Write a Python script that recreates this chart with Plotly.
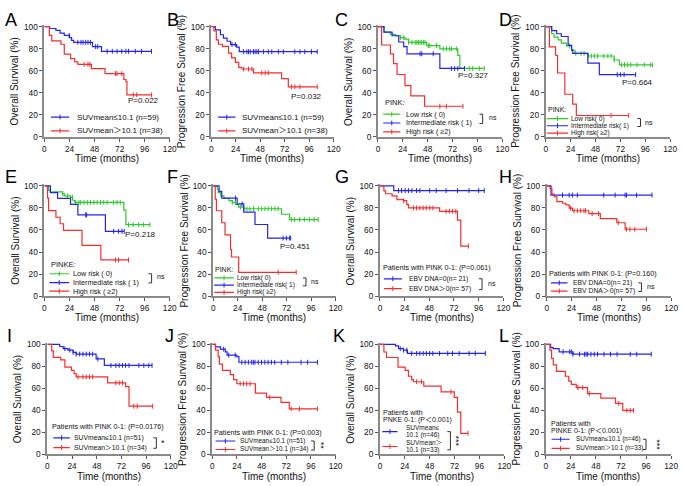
import plotly.graph_objects as go

W, H = 685, 486
BLUE = 'rgb(35,35,235)'
RED = 'rgb(245,45,45)'
GREEN = 'rgb(45,200,45)'
AXC = '#8a8a8a'
FONT = 'Liberation Sans, Arial, Noto Sans CJK SC, sans-serif'

X_TICKS = [0, 24, 48, 72, 96, 120]
Y_TICKS = [0, 20, 40, 60, 80, 100]

# ---------------- data (time in months, survival in %) ----------------
A_lo_t = [5, 11, 15, 19, 24, 26, 28, 46, 54.6]
A_lo_s = [98.3, 96.5, 94, 92, 90, 87.5, 85.7, 81.8, 77.6]
A_lo_c = [23.7, 32, 35, 37, 39.5, 41.7, 44, 49, 51, 60, 65, 69.5, 74, 78, 80.5, 87, 93, 102.5]
A_hi_t = [4.7, 7, 15.8, 19, 25, 29, 32, 45, 58, 76, 78, 79]
A_hi_s = [92, 87, 84, 75, 71, 68, 65.8, 61.9, 57.4, 52, 50, 38]
A_hi_c = [38, 41.7, 43.6, 68, 69.5, 74, 85, 88.4, 102.6]

B_lo_t = [4, 9, 12, 15.6, 19, 25, 27.5]
B_lo_s = [97, 92.6, 89.6, 86.7, 83.7, 81.4, 77.2]
B_lo_c = [20.4, 23.7, 31.8, 35, 36.6, 38.3, 41.5, 43, 44.8, 46.4, 51.2, 56, 59.4, 65.8, 70.7, 82, 87, 91.8, 98.3, 104]
B_hi_t = [2.6, 5, 7, 11, 17, 20, 23.7, 27, 30, 41.5, 69, 75.6]
B_hi_s = [96, 88, 84, 82, 76, 71.6, 67.5, 63, 61.5, 58, 52.7, 45.3]
B_hi_c = [31.8, 36.6, 40, 49.6, 52.9, 56, 78.8, 82, 87, 104]

C_low_t = [6, 12, 17, 21.6, 26, 29.5, 47, 59.7, 77, 79]
C_low_s = [95, 93, 91.7, 90, 88.7, 85.7, 82.7, 79.8, 73.8, 62]
C_low_c = [21.6, 24.8, 29.5, 32.7, 35.9, 37.5, 39, 40.6, 42.2, 43.8, 45.4, 48.6, 50, 56.5, 62.9, 66, 69.2, 70.8, 75.6, 83.5, 88, 91.4, 97.8, 102.5]
C_int_t = [5.7, 13.6, 20, 24.8, 28, 59.7]
C_int_s = [95, 91.7, 86, 81.8, 75.3, 62]
C_int_c = [40.6, 42.2, 53.3, 70.8, 74, 77, 83.5]
C_high_t = [3.5, 12, 15, 18.4, 26, 31.7, 45]
C_high_s = [83.3, 75.3, 66.4, 56.5, 46.4, 37.2, 27.7]
C_high_c = [59.7, 66, 82]

D_low_t = [5.7, 8, 12, 15, 20, 24.8, 28, 40.6, 66, 71]
D_low_s = [93.5, 90.5, 88, 85, 82.5, 78.6, 75.7, 73.3, 69.7, 65.3]
D_low_c = [23, 29, 34, 37, 41, 44, 47, 50, 56, 60, 63, 66, 73, 76, 79, 82, 88, 95, 101, 103]
D_int_t = [5.7, 10.5, 15, 21.6, 25, 26, 40.6, 51.7]
D_int_s = [96.4, 93.5, 91, 83, 78.6, 75.7, 66.8, 56.4]
D_int_c = [69, 72, 75.6, 86.7]
D_high_t = [3.5, 9.5, 11.4, 18.4, 26, 29.5]
D_high_s = [81.6, 74, 57.9, 38.6, 29.7, 19.3]
D_high_c = [63, 80]

E_low_t = [4, 5.7, 17.4, 19, 25, 27, 29, 76, 78]
E_low_s = [96, 94.6, 93, 91, 89.6, 87, 85, 78, 64.8]
E_low_c = [17.4, 22, 26.8, 30, 33, 34.7, 37.9, 41, 44, 47.4, 50.5, 53.7, 56.8, 60, 66.3, 69.5, 72.6, 80.5, 85, 90, 94.7, 101]
E_int_t = [5.7, 12.6, 25, 32, 58.4]
E_int_s = [94, 88.7, 83.3, 73.7, 58.8]
E_int_c = [39.5, 40.4, 66.3, 71, 74.2, 76.4]
E_high_t = [3, 4, 11, 15, 18.3, 36, 54]
E_high_s = [89, 77.6, 71.6, 65.7, 59.7, 46, 32.8]
E_high_c = [68, 71, 80.5]

F_low_t = [4, 5, 7.4, 10.6, 15.4, 18.7, 22, 25, 30, 67, 75]
F_low_s = [97, 94, 91, 88.8, 86.7, 85, 83, 80.8, 79.3, 74.3, 69.5]
F_low_c = [18.7, 21.9, 26.7, 30, 33, 36, 39.6, 44.4, 47.6, 50.8, 54, 57.3, 60.5, 63.7, 76.6, 79.8, 84.6, 89.4, 94.3, 99, 103]
F_int_t = [5.8, 8.4, 23.5, 30, 41, 53.4]
F_int_s = [95, 89, 83.7, 76.3, 65, 52.7]
F_int_c = [21.9, 28.3, 68.5, 71.8, 75, 76]
F_high_t = [2, 3.2, 8.4, 11.6, 17, 18, 25]
F_high_s = [88, 77.5, 66.6, 55.6, 42.3, 35.5, 21.6]
F_high_c = [63.7, 81.4]

G_neg_t = [13.4]
G_neg_s = [95.8]
G_neg_c = [18, 21, 24.5, 27.7, 31, 35.6, 38.8, 48.4, 54.7, 64.3, 75.4, 86.6, 96, 101.5]
G_pos_t = [3.8, 5.4, 11.8, 16.5, 23, 26, 27.7, 58, 75.4, 78.6]
G_pos_s = [95.5, 92.9, 91, 87.5, 86.6, 83, 80, 77, 69, 45.4]
G_pos_c = [23, 32.5, 35.6, 38.8, 42, 45, 48.4, 51.5, 64.3, 67.5, 70.6, 73.8, 86]

H_neg_t = [4.1]
H_neg_s = [91.7]
H_neg_c = [15.2, 21.6, 24.8, 29.5, 55, 66, 75.6, 77, 86.7, 101.6]
H_pos_t = [3.2, 5, 7.3, 9.8, 15.2, 18.4, 21.6, 24.8, 40.6, 51.7, 67.6, 75.6]
H_pos_s = [97.6, 92.6, 90.2, 85.8, 84.3, 82.8, 79.9, 77.5, 74.9, 70.4, 66.6, 60.7]
H_pos_c = [23, 26.3, 29.5, 32.7, 35.9, 37.5, 43.8, 50, 69, 77, 80.3, 85, 96.2]

I_lo_t = [12, 15.4, 20, 25, 28, 47.4, 55.4]
I_lo_s = [98, 96, 94.7, 92.6, 91.1, 86.7, 80.8]
I_lo_c = [17, 21.8, 25, 28, 31.4, 34.6, 37.8, 41, 44, 49, 61.8, 66.6, 69.8, 73, 76, 79.4, 89, 93.8, 98.6, 101.8]
I_hi_t = [4.2, 5.8, 13, 17, 23.4, 26, 28, 58.6, 76, 79.4]
I_hi_s = [94, 88.2, 85.8, 79.3, 76.3, 73.4, 70.4, 65, 61.5, 43.8]
I_hi_c = [29.8, 34.6, 37.8, 41, 44, 66.6, 69.8, 73, 84, 87.4, 102.4]

J_lo_t = [3.2, 8, 12.8, 14.4, 24, 26]
J_lo_s = [97.6, 95.6, 93.2, 90.2, 88.8, 83.7]
J_lo_c = [11.2, 16, 22.4, 28.8, 32, 35.2, 38.4, 40, 41.6, 44.8, 48, 51.2, 54.4, 57.6, 60.8, 67.2, 73.6, 86.4, 92.8, 102.4]
J_hi_t = [3.2, 5.8, 7, 10, 17.6, 20.8, 24, 42, 52.8, 67, 75]
J_hi_s = [94.7, 88.8, 82, 76.3, 72.5, 68, 64.2, 55.6, 51.8, 47.3, 41.4]
J_hi_c = [27.2, 30.4, 33.6, 36.8, 56, 76.8, 84.8, 102.4]

K_lo_t = [15, 18, 22.7, 26.5]
K_lo_s = [98.5, 96, 94.7, 91.7]
K_lo_c = [19.6, 22.7, 25.9, 30.6, 35.4, 38.5, 41.7, 44.8, 48, 51, 57.5, 65.4, 70, 76.4, 86, 92, 101.7]
K_hi_t = [3.8, 6.3, 17.4, 24.3, 27.5, 30.6, 32.2, 42.3, 59, 71.7, 74.8, 78]
K_hi_s = [93, 88, 79.3, 76.3, 71, 68, 66, 62, 56.8, 51.8, 38.5, 19.2]
K_hi_c = [35.4, 40, 68.5, 85]

L_lo_t = [4.7, 7.2, 12.8, 26]
L_lo_s = [97, 96, 93.2, 91]
L_lo_c = [16.6, 22.9, 24.5, 26, 32.3, 37, 38.6, 40.1, 43.3, 46.4, 49.5, 55.8, 62, 68.3, 80.9, 87.1, 101]
L_hi_t = [4, 5.6, 7.2, 10.3, 18.8, 22, 24.5, 29.2, 40, 52.7, 66.8, 73.7]
L_hi_s = [94.7, 87.3, 81.4, 75.4, 71, 66.6, 63.6, 60.7, 55.3, 51.2, 46.4, 40]
L_hi_c = [30.7, 35.4, 41.7, 69.9, 77.7, 80.9, 84]

OS = 'Overall Survival (%)'
PFS = 'Progression Free Survival (%)'
SUV_LO_59 = 'SUVmean≤10.1 (n=59)'
SUV_HI_38 = 'SUVmean＞10.1 (n=38)'
RISK = ['Low risk ( 0)', 'Intermediate risk ( 1)', 'High risk ( ≥2)']
RISK2 = ['Low risk( 0)', 'Intermediate risk( 1)', 'High risk( ≥2)']

# ---------------- panel layout (pixels) ----------------
panels = [
    dict(L='A', lx=2, ly=6, x=(43, 170), y=(24, 136), yt=OS,
         curves=[(A_lo_t, A_lo_s, A_lo_c, BLUE), (A_hi_t, A_hi_s, A_hi_c, RED)],
         leg=dict(x0=6.3, x1=23.7, tx=30, ys=[17.9, 5.4], labels=[SUV_LO_59, SUV_HI_38], fs=8),
         texts=[('P=0.022', 94.7, 32.7, 'center', 8)]),
    dict(L='B', lx=166, ly=6, x=(212, 336), y=(24, 136), yt=PFS,
         curves=[(B_lo_t, B_lo_s, B_lo_c, BLUE), (B_hi_t, B_hi_s, B_hi_c, RED)],
         leg=dict(x0=6.8, x1=23.7, tx=29.5, ys=[17.8, 5.3], labels=[SUV_LO_59, SUV_HI_38], fs=8),
         texts=[('P=0.032', 93.4, 36.4, 'center', 8)]),
    dict(L='C', lx=336, ly=6, x=(381, 507), y=(24, 136), yt=OS,
         curves=[(C_low_t, C_low_s, C_low_c, GREEN), (C_int_t, C_int_s, C_int_c, BLUE), (C_high_t, C_high_s, C_high_c, RED)],
         leg=dict(x0=5, x1=21.6, tx=26.3, ys=[20.5, 12.5, 4.5], labels=RISK, fs=7.2),
         texts=[('P=0.327', 92, 55.4, 'center', 8), ('PINK:', 5.5, 31.5, 'left', 7.5), ('ns', 106, 17.3, 'left', 7)],
         br=(101, 20.5, 12)),
    dict(L='D', lx=503, ly=6, x=(551, 677), y=(24, 136), yt=PFS,
         curves=[(D_low_t, D_low_s, D_low_c, GREEN), (D_int_t, D_int_s, D_int_c, BLUE), (D_high_t, D_high_s, D_high_c, RED)],
         leg=dict(x0=1, x1=21.6, tx=23.8, ys=[16.5, 10, 3.3], labels=RISK2, fs=6.5),
         texts=[('P=0.664', 88.9, 49.6, 'center', 8), ('PINK:', 1, 24.5, 'left', 7), ('ns', 95, 13, 'left', 7)],
         br=(91.4, 16.5, 9.3)),
    dict(L='E', lx=2, ly=166, x=(43, 170), y=(186, 298), yt=OS,
         curves=[(E_low_t, E_low_s, E_low_c, GREEN), (E_int_t, E_int_s, E_int_c, BLUE), (E_high_t, E_high_s, E_high_c, RED)],
         leg=dict(x0=4.7, x1=23.7, tx=26.8, ys=[20.3, 12.3, 4.5], labels=RISK, fs=7.2),
         texts=[('P=0.218', 92.2, 55.8, 'center', 8), ('PINKE:', 5.5, 28.5, 'left', 7.5), ('ns', 107, 17.9, 'left', 7)],
         br=(102.6, 20.3, 12)),
    dict(L='F', lx=166, ly=166, x=(214, 338), y=(186, 298), yt=PFS,
         curves=[(F_low_t, F_low_s, F_low_c, GREEN), (F_int_t, F_int_s, F_int_c, BLUE), (F_high_t, F_high_s, F_high_c, RED)],
         leg=dict(x0=1, x1=20.3, tx=22.8, ys=[16.5, 10, 3.3], labels=RISK2, fs=6.5),
         texts=[('P=0.451', 80.4, 45.3, 'center', 8), ('PINK:', 1, 24.5, 'left', 7), ('ns', 95, 13, 'left', 7)],
         br=(91, 16.5, 9.3)),
    dict(L='G', lx=336, ly=166, x=(383, 508), y=(186, 298), yt=OS,
         curves=[(G_neg_t, G_neg_s, G_neg_c, BLUE), (G_pos_t, G_pos_s, G_pos_c, RED)],
         leg=dict(x0=3.8, x1=21.3, tx=27.7, ys=[15.7, 6.8], labels=['EBV DNA=0(n= 21)', 'EBV DNA＞0(n= 57)'], fs=6.8),
         texts=[('Patients with PINK 0-1: (P=0.061)', 2.2, 26.1, 'left', 7.2), ('ns', 104, 11, 'left', 7)],
         br=(99.3, 15.7, 5.9)),
    dict(L='H', lx=503, ly=166, x=(552, 678), y=(186, 298), yt=PFS,
         curves=[(H_neg_t, H_neg_s, H_neg_c, BLUE), (H_pos_t, H_pos_s, H_pos_c, RED)],
         leg=dict(x0=4.1, x1=20, tx=24.8, ys=[12, 4.6], labels=['EBV DNA=0(n= 21)', 'EBV DNA＞0(n= 57)'], fs=6.8),
         texts=[('Patients with PINK 0-1: (P=0.160)', 1.6, 20.5, 'left', 7.2), ('ns', 95.5, 8.9, 'left', 7)],
         br=(91.4, 12, 4.2)),
    dict(L='I', lx=4, ly=327, x=(46, 171), y=(347, 459), yt=OS,
         curves=[(I_lo_t, I_lo_s, I_lo_c, BLUE), (I_hi_t, I_hi_s, I_hi_c, RED)],
         leg=dict(x0=5.8, x1=21.8, tx=25, ys=[15.1, 6.2], labels=['SUVmean≤10.1 (n=51)', 'SUVmean＞10.1 (n=34)'], fs=6.8),
         texts=[('Patients with PINK 0-1: (P=0.0176)', 3.5, 25.7, 'left', 7.2), ('*', 110, 10.4, 'left', 9)],
         br=(106, 15.1, 5.6)),
    dict(L='J', lx=164, ly=327, x=(213, 338), y=(347, 459), yt=PFS,
         curves=[(J_lo_t, J_lo_s, J_lo_c, BLUE), (J_hi_t, J_hi_s, J_hi_c, RED)],
         leg=dict(x0=3.2, x1=22.4, tx=25.6, ys=[12.2, 4.5], labels=['SUVmean≤10.1 (n=51)', 'SUVmean＞10.1 (n=34)'], fs=6.4),
         texts=[('Patients with PINK 0-1: (P=0.003)', 1, 20, 'left', 7.2)],
         br=(99.2, 12.2, 4), star=('**', 105.5, 8.2)),
    dict(L='K', lx=334, ly=327, x=(383, 509), y=(347, 459), yt=OS,
         curves=[(K_lo_t, K_lo_s, K_lo_c, BLUE), (K_hi_t, K_hi_s, K_hi_c, RED)],
         leg=dict(x0=2.2, x1=17, tx=24.3, ys=[20.7, 7.2], labels=[], fs=6.8),
         texts=[('Patients with', 2.2, 38.3, 'left', 7), ('PNKE 0-1: (P＜0.001)', 2.2, 31.3, 'left', 7),
                ('SUVmean≤', 24.3, 24.3, 'left', 6.5), ('10.1 (n=46)', 24.3, 17.6, 'left', 6.5),
                ('SUVmean＞', 24.3, 10.9, 'left', 6.5), ('10.1 (n=33)', 24.3, 4.2, 'left', 6.5)],
         br=(68, 20.7, 4.2), star=('***', 73.5, 12.5)),
    dict(L='L', lx=503, ly=327, x=(551, 678), y=(347, 459), yt=PFS,
         curves=[(L_lo_t, L_lo_s, L_lo_c, BLUE), (L_hi_t, L_hi_s, L_hi_c, RED)],
         leg=dict(x0=5.6, x1=22.9, tx=28, ys=[13.8, 5.5], labels=['SUVmean≤10.1 (n=46)', 'SUVmean＞10.1 (n=33)'], fs=6.3),
         texts=[('Patients with', 4, 27.8, 'left', 7), ('PINKE 0-1: (P＜0.001)', 4, 21.0, 'left', 7)],
         br=(96, 13.8, 4.5), star=('***', 107, 8.9)),
]

YMAX = 101.5


def surv_at(t, s, x):
    v = 100
    for ti, si in zip(t, s):
        if ti <= x:
            v = si
    return v


fig = go.Figure()
annotations = []
shapes = []
layout = {}

for i, p in enumerate(panels, start=1):
    xa = 'x' if i == 1 else f'x{i}'
    ya = 'y' if i == 1 else f'y{i}'
    xk = 'xaxis' if i == 1 else f'xaxis{i}'
    yk = 'yaxis' if i == 1 else f'yaxis{i}'
    x0, x1 = p['x']
    yt, yb = p['y']
    h100 = yb - yt
    ytop = yb - h100 * YMAX / 100.0
    layout[xk] = dict(domain=[x0 / W, x1 / W], range=[0, 120], anchor=ya,
                      tickvals=X_TICKS, ticktext=[str(v) for v in X_TICKS],
                      showline=True, linecolor=AXC, linewidth=2, ticks='outside', ticklen=3,
                      tickwidth=1, tickcolor='#555', showgrid=False, zeroline=False,
                      tickfont=dict(size=8.3, color='#111', family=FONT))
    layout[yk] = dict(domain=[1 - yb / H, 1 - ytop / H], range=[0, YMAX], anchor=xa,
                      tickvals=Y_TICKS, ticktext=[str(v) for v in Y_TICKS],
                      showline=True, linecolor=AXC, linewidth=2, ticks='outside', ticklen=3,
                      tickwidth=1, tickcolor='#555', showgrid=False, zeroline=False,
                      tickfont=dict(size=8.3, color='#111', family=FONT))
    # survival curves and censor ticks
    for (t, s, c, col) in p['curves']:
        end = max(list(t) + list(c))
        xs = [0] + list(t) + [end]
        ys = [100] + list(s) + [s[-1]]
        fig.add_trace(go.Scatter(x=xs, y=ys, mode='lines', line=dict(color=col, width=1.2, shape='hv'),
                                 xaxis=xa, yaxis=ya, showlegend=False, hoverinfo='skip'))
        fig.add_trace(go.Scatter(x=c, y=[surv_at(t, s, v) for v in c], mode='markers',
                                 marker=dict(symbol='line-ns-open', size=3.5, color=col, line=dict(width=1, color=col)),
                                 xaxis=xa, yaxis=ya, showlegend=False, hoverinfo='skip', cliponaxis=False))
    # legend samples
    lg = p['leg']
    for k, yy in enumerate(lg['ys']):
        col = p['curves'][k][3]
        fig.add_trace(go.Scatter(x=[lg['x0'], lg['x1']], y=[yy, yy], mode='lines', line=dict(color=col, width=1.2),
                                 xaxis=xa, yaxis=ya, showlegend=False, hoverinfo='skip'))
        fig.add_trace(go.Scatter(x=[(lg['x0'] + lg['x1']) / 2], y=[yy], mode='markers',
                                 marker=dict(symbol='line-ns-open', size=3.5, color=col, line=dict(width=1, color=col)),
                                 xaxis=xa, yaxis=ya, showlegend=False, hoverinfo='skip', cliponaxis=False))
        if k < len(lg['labels']):
            annotations.append(dict(text=lg['labels'][k], x=lg['tx'], y=yy, xref=xa, yref=ya, showarrow=False,
                                    xanchor='left', yanchor='middle', borderpad=0,
                                    font=dict(size=lg['fs'], color='#111', family=FONT)))
    for (txt, tx, ty, anc, fs) in p['texts']:
        annotations.append(dict(text=txt, x=tx, y=ty, xref=xa, yref=ya, showarrow=False, borderpad=0,
                                xanchor=anc, yanchor='middle', font=dict(size=fs, color='#111', family=FONT)))
    if 'br' in p:
        bx, b1, b2 = p['br']
        shapes.append(dict(type='path', xref=xa, yref=ya,
                           path=f'M {bx-3},{b1} L {bx},{b1} L {bx},{b2} L {bx-3},{b2}',
                           line=dict(color='#333', width=1)))
    if 'star' in p:
        st, sx, sy = p['star']
        annotations.append(dict(text=st, x=sx, y=sy, xref=xa, yref=ya, showarrow=False, textangle=90, borderpad=0,
                                xanchor='center', yanchor='middle', font=dict(size=9, color='#111', family=FONT)))
    # axis titles and panel letter
    annotations.append(dict(text=p['yt'], x=(x0 - 30) / W, y=1 - (yt + yb) / 2 / H, xref='paper', yref='paper',
                            showarrow=False, textangle=-90, xanchor='center', yanchor='middle', borderpad=0,
                            font=dict(size=10, color='#111', family=FONT)))
    annotations.append(dict(text='Time (months)', x=(x0 + x1) / 2 / W, y=1 - (yb + 22) / H, xref='paper', yref='paper',
                            showarrow=False, xanchor='center', yanchor='middle', borderpad=0,
                            font=dict(size=10, color='#111', family=FONT)))
    annotations.append(dict(text=p['L'], x=p['lx'] / W, y=1 - p['ly'] / H, xref='paper', yref='paper',
                            showarrow=False, xanchor='left', yanchor='top', borderpad=0,
                            font=dict(size=18, color='#000', family=FONT)))

fig.update_layout(width=W, height=H, margin=dict(l=0, r=0, t=0, b=0),
                  paper_bgcolor='white', plot_bgcolor='white',
                  annotations=annotations, shapes=shapes, showlegend=False, **layout)

fig.write_html('out.html', config=dict(displayModeBar=False))
